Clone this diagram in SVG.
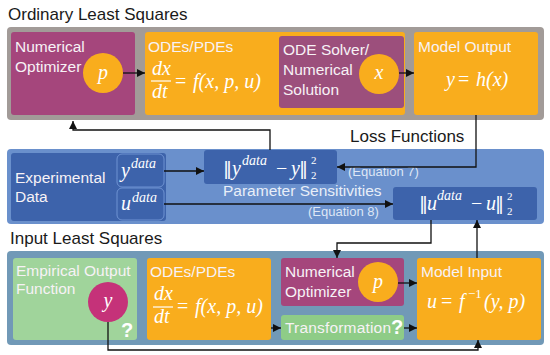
<svg xmlns="http://www.w3.org/2000/svg" width="550" height="355" viewBox="0 0 550 355">
<defs>
<marker id="ah" viewBox="0 0 10 10" refX="10" refY="5" markerWidth="8" markerHeight="8" markerUnits="userSpaceOnUse" orient="auto">
<path d="M0,0 L10,5 L0,10 z" fill="#111"/>
</marker>
<style>
.title{font-family:"Liberation Sans",Arial,sans-serif;font-size:17px;fill:#1a1a1a}
.lbl{font-family:"Liberation Sans",Arial,sans-serif;font-size:15.5px;fill:#f7f2f6}
.eqn{font-family:"Liberation Sans",Arial,sans-serif;font-size:13px;fill:#dde6f5}
.m{font-family:"Liberation Serif","Times New Roman",serif;font-style:italic;font-size:20px;fill:#fff}
.r{font-family:"Liberation Serif","Times New Roman",serif;font-size:20px;fill:#fff}
.s{font-family:"Liberation Serif","Times New Roman",serif;font-style:italic;font-size:14px;fill:#fff}
.sr{font-family:"Liberation Serif","Times New Roman",serif;font-size:13px;fill:#fff}
.sq{font-family:"Liberation Serif","Times New Roman",serif;font-size:11px;fill:#fff}
.nb{font-family:"DejaVu Sans",sans-serif;font-size:18px;fill:#fff}
.q{font-family:"Liberation Sans",Arial,sans-serif;font-weight:bold;font-size:20px;fill:#fff}
.purple{fill:#a5467c}
.purple2{fill:#9c4f7c}
.orange{fill:#f9ad1d}
.green{fill:#a0d49b}
.green2{fill:#8ecc87}
.dblue{fill:#3d63ab}
.conn{fill:none;stroke:#111;stroke-width:1.3;marker-end:url(#ah)}
.frac{stroke:#fff;stroke-width:1.2}
</style>
</defs>
<rect width="550" height="355" fill="#fff"/>

<!-- Titles -->
<text class="title" x="8" y="20">Ordinary Least Squares</text>
<text class="title" x="350" y="142">Loss Functions</text>
<text class="title" x="10" y="244">Input Least Squares</text>

<!-- Panels -->
<g id="panel-ols"><rect x="7" y="27" width="537" height="93" rx="4" fill="#a29b98"/></g>
<g id="panel-loss"><rect x="7" y="149" width="537" height="75" rx="4" fill="#6a90cc"/></g>
<g id="panel-ils"><rect x="7" y="251" width="537" height="94" rx="4" fill="#7199b7"/></g>

<!-- OLS nodes -->
<g id="ols-optimizer">
<rect class="purple" x="11" y="32" width="124" height="83" rx="3"/>
<text class="lbl" x="15" y="52">Numerical</text>
<text class="lbl" x="15" y="72">Optimizer</text>
<circle class="orange" cx="103" cy="73" r="20"/>
<text class="m" x="103" y="79" text-anchor="middle">p</text>
</g>
<g id="ols-odes">
<rect class="orange" x="145" y="32" width="260" height="83" rx="3"/>
<text class="lbl" x="148" y="52">ODEs/PDEs</text>
<text class="m" x="152" y="75">dx</text>
<line class="frac" x1="151" y1="81" x2="171" y2="81"/>
<text class="m" x="152" y="98">dt</text>
<text class="r" x="175" y="88">=</text>
<text class="m" x="193" y="88">f<tspan class="r">(</tspan>x<tspan class="r">, </tspan>p<tspan class="r">, </tspan>u<tspan class="r">)</tspan></text>
</g>
<g id="ols-solver">
<rect class="purple2" x="279" y="36" width="125" height="72" rx="3"/>
<text class="lbl" x="283" y="55">ODE Solver/</text>
<text class="lbl" x="283" y="75">Numerical</text>
<text class="lbl" x="283" y="95">Solution</text>
<circle class="orange" cx="379" cy="74" r="20"/>
<text class="m" x="379" y="79" text-anchor="middle">x</text>
</g>
<g id="ols-output">
<rect class="orange" x="414" y="32" width="124" height="83" rx="3"/>
<text class="lbl" x="418" y="52">Model Output</text>
<text class="m" x="446" y="86">y</text>
<text class="r" x="458" y="86">=</text>
<text class="m" x="476" y="86">h<tspan class="r">(</tspan>x<tspan class="r">)</tspan></text>
</g>

<!-- Loss nodes -->
<g id="exp-data">
<rect class="dblue" x="11" y="153" width="155" height="68" rx="3"/>
<text class="lbl" x="15" y="183">Experimental</text>
<text class="lbl" x="15" y="202">Data</text>
<rect x="117" y="154" width="47" height="33" rx="5" fill="#3d63ab" stroke="#6f93d2" stroke-width="1"/>
<rect x="117" y="188" width="47" height="32" rx="5" fill="#3d63ab" stroke="#6f93d2" stroke-width="1"/>
<text class="m" x="121" y="177">y</text>
<text class="s" x="131" y="168">data</text>
<text class="m" x="121" y="210">u</text>
<text class="s" x="132" y="202">data</text>
</g>
<g id="loss-y">
<rect class="dblue" x="204" y="150" width="133" height="34" rx="3"/>
<text class="nb" x="223" y="175">‖</text>
<text class="m" x="232" y="175">y</text>
<text class="s" x="242" y="165">data</text>
<text class="r" x="276" y="175">−</text>
<text class="m" x="291" y="175">y</text>
<text class="nb" x="299" y="175">‖</text>
<text class="sq" x="311" y="164">2</text>
<text class="sq" x="311" y="179">2</text>
</g>
<text class="eqn" x="348" y="176">(Equation 7)</text>
<text class="lbl" x="223" y="196" style="fill:#e8eef8">Parameter Sensitivities</text>
<text class="eqn" x="308" y="216">(Equation 8)</text>
<g id="loss-u">
<rect class="dblue" x="393" y="187" width="144" height="33" rx="3"/>
<text class="nb" x="419" y="210">‖</text>
<text class="m" x="427" y="210">u</text>
<text class="s" x="437" y="200">data</text>
<text class="r" x="471" y="210">−</text>
<text class="m" x="486" y="210">u</text>
<text class="nb" x="495" y="210">‖</text>
<text class="sq" x="507" y="200">2</text>
<text class="sq" x="507" y="215">2</text>
</g>

<!-- ILS nodes -->
<g id="emp-output">
<rect class="green" x="13" y="258" width="124" height="82" rx="3"/>
<text class="lbl" x="16" y="276">Empirical Output</text>
<text class="lbl" x="16" y="294">Function</text>
<circle cx="108" cy="302" r="20" fill="#c53279"/>
<text class="m" x="108" y="307" text-anchor="middle">y</text>
<text class="q" x="121" y="337">?</text>
</g>
<g id="ils-odes">
<rect class="orange" x="147" y="258" width="124" height="82" rx="3"/>
<text class="lbl" x="150" y="277">ODEs/PDEs</text>
<text class="m" x="154" y="300">dx</text>
<line class="frac" x1="153" y1="307" x2="173" y2="307"/>
<text class="m" x="154" y="323">dt</text>
<text class="r" x="177" y="313">=</text>
<text class="m" x="195" y="313">f<tspan class="r">(</tspan>x<tspan class="r">, </tspan>p<tspan class="r">, </tspan>u<tspan class="r">)</tspan></text>
</g>
<g id="ils-optimizer">
<rect class="purple" x="281" y="258" width="123" height="48" rx="3"/>
<text class="lbl" x="285" y="277">Numerical</text>
<text class="lbl" x="285" y="297">Optimizer</text>
<circle class="orange" cx="378" cy="282" r="20"/>
<text class="m" x="378" y="288" text-anchor="middle">p</text>
</g>
<g id="transformation">
<rect class="green2" x="281" y="315" width="123" height="25" rx="3"/>
<text class="lbl" x="285" y="333" textLength="106">Transformation</text>
<text class="q" x="391" y="334">?</text>
</g>
<g id="model-input">
<rect class="orange" x="417" y="258" width="124" height="82" rx="3"/>
<text class="lbl" x="421" y="277">Model Input</text>
<text class="m" x="427" y="308">u</text>
<text class="r" x="441" y="308">=</text>
<text class="m" x="459" y="308">f</text>
<text class="sr" x="468" y="298">−1</text>
<text class="m" x="484" y="308"><tspan class="r">(</tspan>y<tspan class="r">, </tspan>p<tspan class="r">)</tspan></text>
</g>

<!-- Connectors -->
<g id="connectors">
<path class="conn" d="M123,73 H145"/>
<path class="conn" d="M399,73 H414"/>
<path class="conn" d="M476,115 V167 H337"/>
<path class="conn" d="M270,150 V130 H73 V121"/>
<path class="conn" d="M164,171 H204"/>
<path class="conn" d="M164,204 H393"/>
<path class="conn" d="M431,220 V243 H337 V258"/>
<path class="conn" d="M477,258 V220"/>
<path class="conn" d="M398,283 H417"/>
<path class="conn" d="M404,328 H417"/>
<path class="conn" d="M271,328 H281"/>
<path class="conn" d="M108,322 V350 H478 V340"/>
</g>
</svg>
